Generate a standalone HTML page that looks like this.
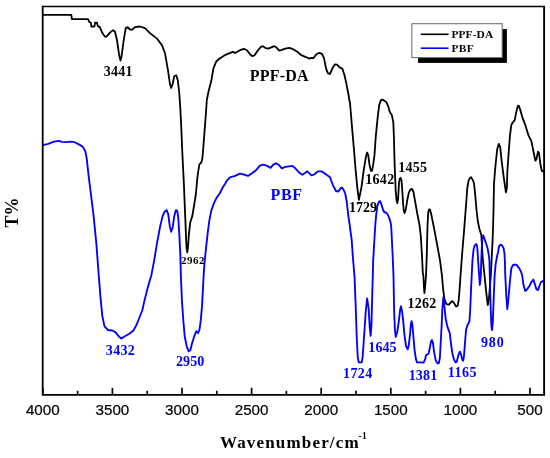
<!DOCTYPE html>
<html><head><meta charset="utf-8"><title>FTIR</title>
<style>
html,body{margin:0;padding:0;background:#fff;}
body{width:550px;height:458px;overflow:hidden;}
svg{display:block;}
.serif text{font-family:"Liberation Serif","Times New Roman",serif;font-weight:bold;}
.sans text{font-family:"Liberation Sans",Arial,sans-serif;font-size:15.2px;fill:#000;stroke:#000;stroke-width:0.2px;}
</style></head><body>
<svg width="550" height="458" viewBox="0 0 550 458">
<rect width="550" height="458" fill="#fff"/>
<polyline points="42.8,14.9 71.3,14.9 71.9,19.1 88.0,19.1 89.4,22.1 90.8,22.5 91.4,26.7 94.4,26.7 95.0,22.7 97.0,22.7 97.8,26.1 99.8,27.1 102.4,33.1 104.8,36.5 106.4,36.7 110.0,32.6 113.0,30.1 115.0,31.7 117.0,40.2 119.0,54.2 120.5,60.5 121.6,56.2 123.7,40.2 125.7,28.1 127.7,27.1 130.0,29.7 132.0,29.7 135.0,27.1 140.0,26.5 145.0,28.1 150.0,33.1 157.0,38.6 162.0,45.2 165.0,53.2 168.0,70.3 170.0,84.3 171.2,88.0 172.6,84.3 174.2,76.3 176.2,75.3 177.8,80.3 179.2,92.0 180.3,108.1 181.3,128.1 182.3,152.2 183.3,172.3 183.9,184.0 184.7,204.1 185.7,228.2 186.5,248.3 187.3,252.3 187.9,248.3 188.9,234.2 190.3,222.2 192.3,216.1 194.3,204.1 195.9,194.0 196.8,184.0 197.3,178.3 198.4,170.3 199.4,164.3 201.4,162.3 202.4,158.3 203.4,146.2 204.8,128.1 206.0,112.1 206.8,100.0 208.4,92.0 211.4,80.3 213.4,68.3 216.4,61.2 220.0,58.2 226.0,54.6 231.0,52.6 233.0,51.8 235.0,53.0 240.0,50.2 244.0,48.8 247.0,50.2 250.0,54.2 252.5,56.2 254.5,55.2 258.0,50.2 261.0,46.8 263.0,46.2 265.8,48.2 268.2,48.6 271.2,47.4 274.2,46.2 276.2,47.2 279.2,50.6 281.2,50.2 285.3,48.6 289.3,47.8 292.3,48.8 297.3,51.8 301.3,55.2 305.3,56.8 309.4,58.6 311.4,57.8 313.4,58.2 316.4,54.2 319.4,52.8 322.0,53.8 324.0,58.2 326.0,68.3 328.0,73.3 330.0,73.8 332.4,68.3 335.0,64.3 337.0,64.7 339.6,67.3 342.4,68.9 344.5,75.3 346.5,84.3 348.0,92.0 350.1,104.0 352.1,128.1 354.0,150.0 355.6,169.6 357.3,187.6 358.9,199.9 361.4,187.6 363.8,169.6 366.0,156.5 367.1,152.5 368.2,154.9 369.5,164.7 370.9,170.9 372.0,170.9 373.2,164.7 374.5,154.9 375.8,136.2 377.8,116.1 379.2,105.1 381.2,99.6 383.2,100.0 386.2,102.0 388.2,106.1 389.8,112.1 391.8,115.1 393.3,122.1 393.9,136.2 394.3,152.0 394.7,166.4 395.7,190.9 396.6,200.7 397.4,203.2 398.2,197.5 399.0,182.7 399.8,178.6 400.6,177.8 401.5,180.3 402.3,190.9 403.1,204.0 403.9,211.4 404.7,213.0 405.9,208.9 407.2,200.7 408.8,192.6 410.5,189.3 411.8,188.8 413.4,191.7 415.0,200.7 417.0,212.2 419.4,224.2 420.8,236.2 422.0,256.3 422.8,272.4 423.4,276.0 424.0,288.0 424.4,293.1 425.0,288.0 426.0,276.0 426.8,254.3 427.5,226.0 428.2,212.8 429.0,209.4 430.0,209.6 431.4,215.0 434.4,230.2 437.4,246.2 440.0,260.3 442.0,276.0 443.0,288.0 444.4,299.1 446.4,304.1 449.0,304.7 451.0,302.1 452.4,301.1 454.1,303.1 456.1,306.5 457.7,305.7 458.7,300.1 459.7,288.0 460.5,276.0 462.1,254.3 464.1,230.2 466.1,204.1 467.3,188.0 468.5,181.0 469.5,178.5 471.1,177.3 473.1,180.4 474.1,184.0 475.5,198.0 476.5,210.0 477.8,221.0 479.3,228.5 481.3,235.1 481.8,242.7 482.4,253.6 482.9,260.0 484.6,276.0 486.2,292.1 487.8,305.1 488.8,300.1 489.8,288.0 490.8,276.0 491.6,260.0 492.5,242.7 493.1,226.4 493.5,210.0 494.0,184.0 495.2,168.3 497.2,149.2 498.8,143.8 500.2,147.2 501.8,162.3 503.9,178.3 504.7,184.0 505.9,192.4 506.9,188.0 507.3,172.3 508.7,152.2 509.9,136.2 511.3,125.1 512.7,122.5 514.7,120.1 516.3,112.1 517.7,106.1 518.9,105.7 520.3,110.1 522.3,117.1 525.3,125.1 528.4,135.2 531.4,141.2 533.4,151.2 535.4,160.7 536.4,159.3 538.0,151.6 539.0,153.2 540.4,164.3 541.8,170.9 544.0,171.7" fill="none" stroke="#000" stroke-width="1.8" stroke-linejoin="round" stroke-linecap="round"/>
<polyline points="42.8,145.2 48.2,143.8 54.2,141.6 58.6,140.8 62.2,141.8 66.3,142.2 70.3,141.6 74.7,142.2 79.3,144.6 82.7,146.6 85.3,151.2 86.7,158.3 88.0,170.3 89.4,182.0 93.4,214.1 96.4,244.2 98.8,276.0 100.4,296.1 102.3,316.0 104.5,326.3 108.0,330.0 112.1,330.5 115.4,332.1 118.6,336.2 121.4,338.6 124.4,336.5 129.3,333.7 133.4,330.5 136.6,324.7 139.9,316.5 142.4,310.0 144.1,302.1 147.1,290.1 150.2,279.0 151.2,276.0 154.2,260.3 157.2,242.2 160.2,226.2 162.6,216.1 164.6,211.7 166.6,210.1 168.2,214.1 169.8,226.2 171.2,231.8 172.7,227.2 174.3,216.1 175.9,210.1 177.3,211.1 178.3,218.1 179.3,234.2 180.3,254.3 180.9,276.0 181.9,300.1 183.3,320.2 184.7,336.2 186.7,346.3 188.7,351.3 190.3,350.3 192.3,342.3 194.3,336.2 196.3,331.2 198.0,333.2 199.4,330.2 200.8,320.2 202.0,306.1 203.0,288.0 203.6,276.0 204.4,264.3 206.0,248.3 207.8,232.2 209.4,220.1 211.4,210.1 214.0,203.1 216.4,198.1 220.0,193.0 222.4,188.0 225.0,184.0 227.0,180.4 230.0,177.3 235.0,175.9 240.0,173.7 244.0,174.7 248.0,175.9 252.0,173.3 256.0,170.3 259.8,165.7 263.2,164.7 267.2,165.9 270.6,167.9 273.2,164.7 276.2,163.3 278.6,164.7 281.8,168.3 285.3,166.9 289.3,166.3 292.3,165.9 295.3,168.3 299.3,172.7 302.3,174.7 304.7,173.3 307.3,171.3 309.4,173.3 311.4,175.3 314.4,174.3 318.0,171.3 321.4,171.3 325.4,173.9 330.0,177.3 333.0,185.5 336.0,191.0 338.4,191.6 340.4,188.4 342.0,187.6 343.7,190.0 345.2,193.5 346.6,200.7 348.3,215.5 349.7,225.0 351.7,240.2 353.1,260.3 354.5,276.0 355.7,306.1 356.7,336.2 357.7,356.3 358.7,362.3 361.7,362.3 362.7,356.3 364.1,336.2 365.7,312.1 367.1,298.5 368.6,308.1 369.8,328.2 370.6,335.8 371.4,326.2 372.2,296.1 372.8,276.0 373.2,260.3 374.6,236.2 375.3,225.0 376.1,215.5 377.4,205.6 379.0,201.6 380.2,201.1 381.3,204.0 383.0,209.7 384.3,212.2 385.9,212.5 387.2,213.8 388.9,217.1 390.5,222.0 391.2,226.2 391.8,238.2 392.7,256.3 393.5,276.0 394.1,310.0 394.9,329.6 395.7,337.0 397.4,331.3 399.0,319.8 400.1,310.0 401.0,306.3 401.8,310.0 403.1,319.8 404.4,334.5 406.0,346.0 407.7,349.3 408.8,345.2 410.0,334.5 410.9,323.9 411.6,321.1 412.4,324.7 413.2,334.5 414.5,349.3 415.9,359.1 417.0,362.4 420.3,362.4 423.6,362.7 425.2,359.1 426.0,355.0 428.5,353.9 429.6,349.3 430.9,341.9 431.9,340.0 432.9,342.7 434.2,352.6 435.8,360.7 437.5,363.2 438.8,363.2 439.9,357.5 440.7,342.7 441.6,326.4 442.4,308.0 443.4,297.1 444.4,306.1 445.6,318.2 447.3,326.4 449.7,332.9 450.9,342.7 452.2,352.6 453.8,359.1 455.5,362.4 456.8,361.6 458.4,355.0 459.9,351.7 461.2,355.0 462.3,359.9 463.2,360.7 464.0,355.8 465.0,342.7 466.1,329.6 467.7,324.7 469.4,321.5 470.2,310.0 471.1,288.0 471.7,276.0 472.5,260.0 473.6,249.3 474.7,245.4 476.4,244.0 477.2,247.1 477.7,253.6 478.2,262.0 479.2,276.0 479.8,285.0 480.8,276.0 481.3,260.0 481.8,248.2 482.4,238.4 483.2,235.3 484.5,238.9 486.2,243.8 487.8,249.3 488.9,255.8 489.4,260.0 489.8,276.0 490.6,306.1 491.4,326.2 492.0,330.2 492.8,322.2 493.8,296.1 494.6,276.0 495.6,264.3 497.1,256.0 498.0,252.5 499.0,246.5 500.3,244.7 502.0,245.4 503.6,248.2 504.5,253.6 504.9,262.0 505.3,276.0 506.3,296.1 507.3,309.1 508.3,300.1 509.7,284.0 510.5,276.0 511.3,268.3 513.3,264.7 516.3,264.7 519.3,268.3 521.3,272.4 522.3,276.0 523.3,284.0 525.3,291.1 527.3,289.1 529.4,286.0 531.4,282.0 533.4,279.6 534.8,284.0 536.4,289.1 538.0,290.1 539.4,286.0 541.0,282.0 542.8,281.0 544.0,281.6" fill="none" stroke="#0000ff" stroke-width="1.85" stroke-linejoin="round" stroke-linecap="round"/>
<g stroke="#000" stroke-width="1.7" fill="none">
<line x1="42.7" y1="5.7" x2="42.7" y2="395.7" stroke-width="1.8"/>
<line x1="544.1" y1="5.7" x2="544.1" y2="395.7" stroke-width="1.9"/>
<line x1="42.75" y1="6.5" x2="544.1" y2="6.5" stroke-width="1.6"/>
<line x1="42.75" y1="394.8" x2="544.1" y2="394.8" stroke-width="1.8"/>
<line x1="42.8" y1="394.8" x2="42.8" y2="387.8"/><line x1="77.6" y1="394.8" x2="77.6" y2="390.8"/><line x1="112.4" y1="394.8" x2="112.4" y2="387.8"/><line x1="147.2" y1="394.8" x2="147.2" y2="390.8"/><line x1="182.0" y1="394.8" x2="182.0" y2="387.8"/><line x1="216.8" y1="394.8" x2="216.8" y2="390.8"/><line x1="251.6" y1="394.8" x2="251.6" y2="387.8"/><line x1="286.4" y1="394.8" x2="286.4" y2="390.8"/><line x1="321.2" y1="394.8" x2="321.2" y2="387.8"/><line x1="356.0" y1="394.8" x2="356.0" y2="390.8"/><line x1="390.8" y1="394.8" x2="390.8" y2="387.8"/><line x1="425.6" y1="394.8" x2="425.6" y2="390.8"/><line x1="460.4" y1="394.8" x2="460.4" y2="387.8"/><line x1="495.2" y1="394.8" x2="495.2" y2="390.8"/><line x1="530.0" y1="394.8" x2="530.0" y2="387.8"/>
</g>
<g class="sans"><text x="42.8" y="414.8" text-anchor="middle">4000</text><text x="112.4" y="414.8" text-anchor="middle">3500</text><text x="182.0" y="414.8" text-anchor="middle">3000</text><text x="251.6" y="414.8" text-anchor="middle">2500</text><text x="321.2" y="414.8" text-anchor="middle">2000</text><text x="390.8" y="414.8" text-anchor="middle">1500</text><text x="460.4" y="414.8" text-anchor="middle">1000</text><text x="530.0" y="414.8" text-anchor="middle">500</text></g>
<g class="serif">
<text x="103.7" y="75.8" font-size="14" fill="#000" textLength="28.7" lengthAdjust="spacing">3441</text><text x="348.9" y="212.4" font-size="14" fill="#000" textLength="28.1" lengthAdjust="spacing">1729</text><text x="365.2" y="184.4" font-size="14" fill="#000" textLength="29.0" lengthAdjust="spacing">1642</text><text x="398.2" y="171.5" font-size="14" fill="#000" textLength="28.9" lengthAdjust="spacing">1455</text><text x="407.5" y="307.7" font-size="14" fill="#000" textLength="28.8" lengthAdjust="spacing">1262</text><text x="181.0" y="264.4" font-size="11" fill="#000" textLength="23.5" lengthAdjust="spacing">2962</text><text x="105.8" y="355" font-size="14" fill="#0000ff" textLength="29.0" lengthAdjust="spacing">3432</text><text x="175.9" y="366" font-size="14" fill="#0000ff" textLength="28.4" lengthAdjust="spacing">2950</text><text x="343.1" y="378" font-size="14" fill="#0000ff" textLength="29.1" lengthAdjust="spacing">1724</text><text x="368.3" y="351.9" font-size="14" fill="#0000ff" textLength="28.3" lengthAdjust="spacing">1645</text><text x="408.7" y="380.0" font-size="14" fill="#0000ff" textLength="28.5" lengthAdjust="spacing">1381</text><text x="447.8" y="377.1" font-size="14" fill="#0000ff" textLength="28.8" lengthAdjust="spacing">1165</text><text x="481.0" y="347.3" font-size="14" fill="#0000ff" textLength="22.7" lengthAdjust="spacing">980</text><text x="249.8" y="80.8" font-size="16" fill="#000" textLength="58.7" lengthAdjust="spacing">PPF-DA</text><text x="270.6" y="199.9" font-size="16" fill="#0000ff" textLength="31.5" lengthAdjust="spacing">PBF</text>
<text x="220.0" y="448.2" font-size="17" fill="#000" textLength="138.6" lengthAdjust="spacing">Wavenumber/cm</text>
<text x="358.5" y="438.8" font-size="9.5" fill="#000" textLength="8.2" lengthAdjust="spacing">-1</text>
<text transform="translate(18.2,227.6) rotate(-90)" font-size="18" fill="#000">T%</text>
</g>
<rect x="418" y="29.1" width="88.9" height="33.8" fill="#000"/>
<rect x="411.9" y="23.7" width="90.3" height="33.9" fill="#fff" stroke="#666" stroke-width="1"/>
<line x1="420.8" y1="34.3" x2="448.6" y2="34.3" stroke="#000" stroke-width="1.6"/>
<line x1="420.8" y1="48.2" x2="448.6" y2="48.2" stroke="#0000ff" stroke-width="1.6"/>
<g class="serif">
<text x="451.4" y="38.2" font-size="11.4" fill="#000" textLength="41.8" lengthAdjust="spacing">PPF-DA</text>
<text x="451.4" y="51.8" font-size="11.4" fill="#000" textLength="22.3" lengthAdjust="spacing">PBF</text>
</g>
</svg>
</body></html>
